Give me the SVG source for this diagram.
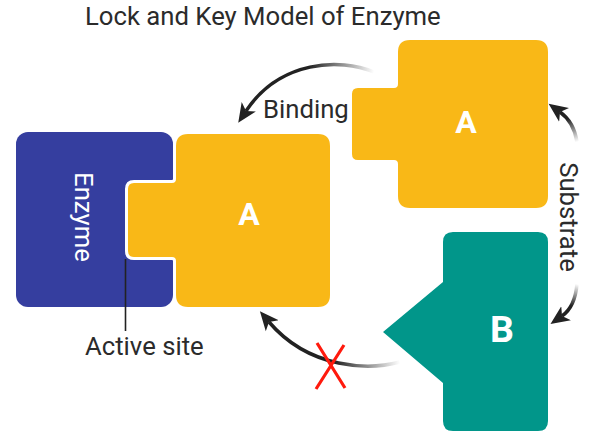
<svg xmlns="http://www.w3.org/2000/svg" width="591" height="439" viewBox="0 0 591 439">
<style>
.lbl{font-family:Roboto,"Liberation Sans",sans-serif;font-size:25.7px;fill:#2b2b2b}
.big{font-family:Roboto,"Liberation Sans",sans-serif;font-weight:bold;fill:#ffffff;text-anchor:middle}
.enz{fill:#353E9F}
.sub{fill:#F9B817}
.bsub{fill:#01968A}
.arr{fill:none;stroke-width:3.5}
.x{stroke:#FF1A0D;stroke-width:3.2;fill:none}
</style>
<defs>
<marker id="head" markerUnits="userSpaceOnUse" markerWidth="22" markerHeight="22" viewBox="0 -11 22 22" refX="5" refY="0" orient="auto">
<path d="M19 0 L0 -8.5 L5 0 L0 8.5 Z" fill="#222"/>
</marker>
<linearGradient id="g1" gradientUnits="userSpaceOnUse" x1="374" y1="72" x2="310" y2="62">
<stop offset="0" stop-color="#222" stop-opacity="0"/><stop offset="1" stop-color="#222"/>
</linearGradient>
<linearGradient id="g2" gradientUnits="userSpaceOnUse" x1="577" y1="142" x2="570" y2="118">
<stop offset="0" stop-color="#222" stop-opacity="0"/><stop offset="1" stop-color="#222"/>
</linearGradient>
<linearGradient id="g3" gradientUnits="userSpaceOnUse" x1="577" y1="284" x2="572" y2="306">
<stop offset="0" stop-color="#222" stop-opacity="0"/><stop offset="1" stop-color="#222"/>
</linearGradient>
<linearGradient id="g4" gradientUnits="userSpaceOnUse" x1="400" y1="362" x2="335" y2="366">
<stop offset="0" stop-color="#222" stop-opacity="0"/><stop offset="1" stop-color="#222"/>
</linearGradient>
</defs>
<rect width="591" height="439" fill="#ffffff"/>
<text class="lbl" x="85" y="25">Lock and Key Model of Enzyme</text>
<g id="enzyme">
<rect class="enz" x="16" y="132" width="157" height="175" rx="12"/>
<text class="big" style="font-weight:normal;font-size:25.7px" transform="translate(75 217) rotate(90)">Enzyme</text>
</g>
<g id="substrate-bound">
<path class="sub" stroke="#ffffff" stroke-width="6" paint-order="stroke" d="M188 134 H318 Q330 134 330 146 V295 Q330 307 318 307 H188 Q176 307 176 295 V261 Q176 257 172 257 H134 Q128 257 128 251 V189 Q128 183 134 183 H172 Q176 183 176 179 V146 Q176 134 188 134 Z"/>
<text class="big" x="249" y="224.5" font-size="32">A</text>
</g>
<g id="active-site">
<line x1="125.5" y1="259" x2="125.5" y2="331" stroke="#222" stroke-width="1.6"/>
<text class="lbl" x="85" y="355">Active site</text>
</g>
<g id="substrate-a">
<path class="sub" d="M410 40 H536 Q548 40 548 52 V196 Q548 208 536 208 H410 Q398 208 398 196 V164 Q398 160 394 160 H358 Q352 160 352 154 V94 Q352 88 358 88 H394 Q398 88 398 84 V52 Q398 40 410 40 Z"/>
<text class="big" x="466" y="133" font-size="32">A</text>
</g>
<g id="substrate-b">
<path class="bsub" d="M453 232 H538 Q548 232 548 242 V421 Q548 431 538 431 H453 Q443 431 443 421 V383 L383 332 L443 282 V242 Q443 232 453 232 Z"/>
<text class="big" x="502" y="342" font-size="37.5">B</text>
</g>
<g id="connectors">
<path class="arr" stroke="url(#g1)" marker-end="url(#head)" d="M374 72 C340 58 280 60 246 111"/>
<path class="arr" stroke="url(#g2)" marker-end="url(#head)" d="M577 142 Q574 122 560 112"/>
<path class="arr" stroke="url(#g3)" marker-end="url(#head)" d="M577 284 Q575 307 562 316"/>
<path class="arr" stroke="url(#g4)" marker-end="url(#head)" d="M400 362 C370 370 310 370 269 322"/>
<path class="x" d="M317 343 L345 388 M344 345 L316 389"/>
</g>
<text class="lbl" x="263" y="118">Binding</text>
<text class="lbl" text-anchor="middle" transform="translate(560 217) rotate(90)">Substrate</text>
</svg>
